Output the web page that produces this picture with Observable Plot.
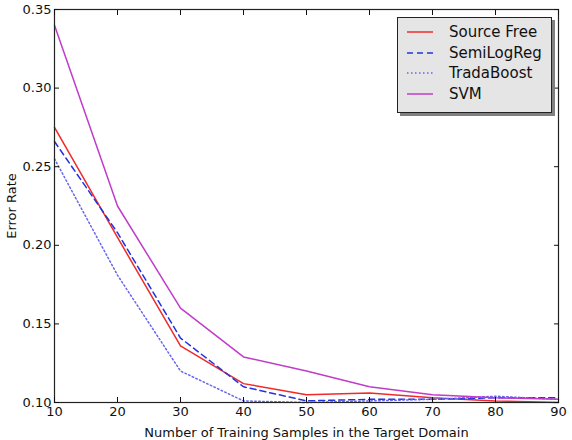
<!DOCTYPE html>
<html lang="en">
<head>
<meta charset="UTF-8">
<script src="https://cdn.jsdelivr.net/npm/d3@7"></script>
<script src="https://cdn.jsdelivr.net/npm/@observablehq/plot@0.6"></script>
<style>
    body { margin: 0; background: #fff; font-family: "DejaVu Sans", sans-serif; }
    #chart { position: relative; width: 572px; height: 440px; }
    .legend {
        position: absolute; left: 397px; top: 17px; width: 155px; height: 96px;
        background: #e5e5e5; border: 1px solid #222; box-sizing: border-box;
        box-shadow: 3px 3px 0 #808080; padding-top: 4px;
    }
    .legend .row { display: flex; align-items: center; height: 20.5px; font-size: 15px; color: #111; }
    .legend svg { margin-left: 9px; margin-right: 16px; }
</style>
<title>Error rate vs training samples</title>
</head>
<body>
<div id="chart"></div>
<script>
    // number of training samples in the target domain
    const samples = [10, 20, 30, 40, 50, 60, 70, 80, 90];

    // error rates
    const sourceFree = [0.275, 0.205, 0.136, 0.112, 0.105, 0.106, 0.103, 0.101, 0.100];
    const semiLogReg = [0.266, 0.208, 0.141, 0.110, 0.101, 0.102, 0.102, 0.103, 0.103];
    const tradaBoost = [0.255, 0.181, 0.120, 0.101, 0.100, 0.101, 0.102, 0.104, 0.102];
    const svm        = [0.340, 0.225, 0.160, 0.129, 0.120, 0.110, 0.105, 0.103, 0.102];

    const xTicks = [10, 20, 30, 40, 50, 60, 70, 80, 90];
    const yTicks = [0.10, 0.15, 0.20, 0.25, 0.30, 0.35];

    const series = [
        {name: "Source Free", values: sourceFree},
        {name: "SemiLogReg", values: semiLogReg},
        {name: "TradaBoost", values: tradaBoost},
        {name: "SVM", values: svm}
    ];

    const look = {
        "Source Free": {stroke: "#f02a2a", dash: null},
        "SemiLogReg": {stroke: "#2233dd", dash: "6,4"},
        "TradaBoost": {stroke: "#6666ee", dash: "1.5,2.5"},
        "SVM": {stroke: "#c03cc8", dash: null}
    };

    const rows = series.flatMap(s => s.values.map((v, i) => ({series: s.name, n: samples[i], err: v})));

    const lines = series.map(s => Plot.line(rows.filter(d => d.series === s.name), {
        x: "n", y: "err",
        stroke: look[s.name].stroke,
        strokeDasharray: look[s.name].dash,
        strokeWidth: 1.5
    }));

    const noText = () => "";

    const plot = Plot.plot({
        width: 572,
        height: 440,
        marginLeft: 54,
        marginRight: 14,
        marginTop: 9,
        marginBottom: 38,
        style: {fontFamily: "DejaVu Sans, sans-serif", fontSize: "13px", color: "#111", background: "#fff"},
        x: {domain: [10, 90]},
        y: {domain: [0.10, 0.35]},
        marks: [
            ...lines,
            Plot.frame({stroke: "#222", strokeWidth: 1.2}),
            Plot.axisX({ticks: xTicks, tickSize: 0, tickPadding: 4, label: "Number of Training Samples in the Target Domain",
                labelAnchor: "center", labelArrow: "none", labelOffset: 34}),
            Plot.axisX({ticks: xTicks, anchor: "bottom", tickSize: -5, tickFormat: noText, label: null}),
            Plot.axisX({ticks: xTicks, anchor: "top", tickSize: -5, tickFormat: noText, label: null}),
            Plot.axisY({ticks: yTicks, tickSize: 0, tickPadding: 3, tickFormat: d3.format(".2f"), label: "Error Rate",
                labelAnchor: "center", labelArrow: "none", labelOffset: 48}),
            Plot.axisY({ticks: yTicks, anchor: "left", tickSize: -5, tickFormat: noText, label: null}),
            Plot.axisY({ticks: yTicks, anchor: "right", tickSize: -5, tickFormat: noText, label: null})
        ]
    });

    const chart = document.getElementById("chart");
    chart.append(plot);

    // legend box in the upper right, like the original
    const legend = document.createElement("div");
    legend.className = "legend";
    for (const s of series) {
        const row = document.createElement("div");
        row.className = "row";
        const st = look[s.name];
        row.innerHTML = `<svg width="26" height="8"><line x1="0" x2="26" y1="4" y2="4" stroke="${st.stroke}" stroke-width="1.5" ${st.dash ? `stroke-dasharray="${st.dash}"` : ""}/></svg><span>${s.name}</span>`;
        legend.append(row);
    }
    chart.append(legend);
</script>
</body>
</html>
